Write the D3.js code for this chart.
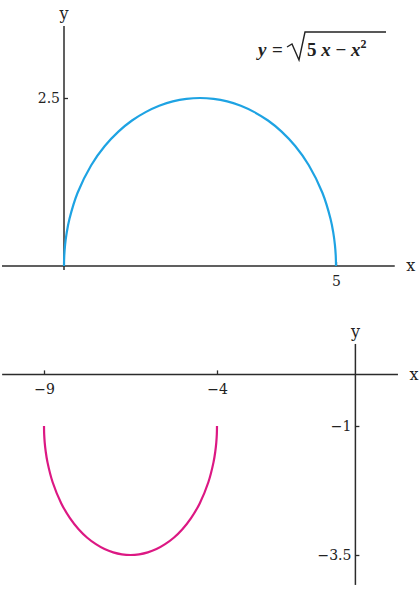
<!DOCTYPE html>
<html><head><meta charset="utf-8">
<script src="https://cdn.jsdelivr.net/npm/d3@7"></script>
<style>
html,body{margin:0;padding:0;background:#fff;}
</style></head>
<body>
<svg id="c" width="420" height="590"></svg>
<script>
// ---- data ----
const topX = [0, 0.005, 0.02, 0.05, 0.1, 0.25, 0.5, 0.75, 1, 1.25, 1.5, 1.75, 2, 2.25, 2.5, 2.75, 3, 3.25, 3.5, 3.75, 4, 4.25, 4.5, 4.75, 4.9, 4.95, 4.98, 4.995, 5];
const topY = [0, 0.158, 0.316, 0.497, 0.7, 1.09, 1.5, 1.785, 2, 2.165, 2.29, 2.385, 2.449, 2.487, 2.5, 2.487, 2.449, 2.385, 2.29, 2.165, 2, 1.785, 1.5, 1.09, 0.7, 0.497, 0.316, 0.158, 0];
const botX = [-9, -8.995, -8.98, -8.95, -8.9, -8.75, -8.5, -8.25, -8, -7.75, -7.5, -7.25, -7, -6.75, -6.5, -6.25, -6, -5.75, -5.5, -5.25, -5, -4.75, -4.5, -4.25, -4.1, -4.05, -4.02, -4.005, -4];
const botY = [-1, -1.158, -1.316, -1.497, -1.7, -2.09, -2.5, -2.785, -3, -3.165, -3.29, -3.385, -3.449, -3.487, -3.5, -3.487, -3.449, -3.385, -3.29, -3.165, -3, -2.785, -2.5, -2.09, -1.7, -1.497, -1.316, -1.158, -1];
const topXTicks = [5];
const topYTicks = [2.5];
const botXTicks = [-9, -4];
const botYTicks = [-1, -3.5];
const topXTickLabels = ["5"];
const topYTickLabels = ["2.5"];
const botXTickLabels = ["\u22129", "\u22124"];
const botYTickLabels = ["\u22121", "\u22123.5"];

const svg = d3.select("#c");
const axisColor = "#2b2b2b";
const tickFont = "'DejaVu Serif', serif";

function panel(cfg){
  const g = svg.append("g");
  const x = d3.scaleLinear().domain(cfg.xd).range(cfg.xr);
  const y = d3.scaleLinear().domain(cfg.yd).range(cfg.yr);
  // axis lines
  g.append("line").attr("x1", x(cfg.xExt[0])).attr("x2", x(cfg.xExt[1]))
    .attr("y1", y(0)).attr("y2", y(0)).attr("stroke", axisColor).attr("stroke-width", 1.5);
  g.append("line").attr("x1", x(0)).attr("x2", x(0))
    .attr("y1", y(cfg.yExt[0])).attr("y2", y(cfg.yExt[1])).attr("stroke", axisColor).attr("stroke-width", 1.5);
  // x ticks (pointing up, labels below)
  const xa = d3.axisBottom(x).tickValues(cfg.xTicks).tickSize(-4).tickPadding(10)
    .tickFormat((d,i)=>cfg.xLabels[i]);
  const gx = g.append("g").attr("transform", `translate(0,${y(0)})`).call(xa);
  gx.select(".domain").remove();
  gx.attr("font-family", null).attr("font-size", null);
  gx.selectAll("line").attr("stroke", axisColor).attr("stroke-width", 1.3);
  gx.selectAll("text").style("font-size", "14px").style("font-family", tickFont).attr("fill", "#222");
  // y ticks (pointing right, labels left)
  const ya = d3.axisLeft(y).tickValues(cfg.yTicks).tickSize(-4).tickPadding(4)
    .tickFormat((d,i)=>cfg.yLabels[i]);
  const gy = g.append("g").attr("transform", `translate(${x(0)},0)`).call(ya);
  gy.select(".domain").remove();
  gy.attr("font-family", null).attr("font-size", null);
  gy.selectAll("line").attr("stroke", axisColor).attr("stroke-width", 1.3);
  gy.selectAll("text").style("font-size", "14px").style("font-family", tickFont).attr("fill", "#222");
  // axis names
  g.append("text").attr("x", x(cfg.xExt[1]) + 16).attr("y", y(0)).attr("dy", "0.32em")
    .attr("text-anchor", "middle").style("font-size", "16px").style("font-family", tickFont).attr("fill", "#222").text("x");
  g.append("text").attr("x", x(0)).attr("y", y(cfg.yExt[1]) - 12).attr("dy", "0.32em")
    .attr("text-anchor", "middle").style("font-size", "16px").style("font-family", tickFont).attr("fill", "#222").text("y");
  // curve
  const pts = cfg.cx.map((v,i)=>[v, cfg.cy[i]]);
  const line = d3.line().x(d=>x(d[0])).y(d=>y(d[1])).curve(d3.curveCatmullRom.alpha(0.5));
  g.append("path").datum(pts).attr("d", line).attr("fill", "none")
    .attr("stroke", cfg.color).attr("stroke-width", 2.2).attr("stroke-linecap", "butt");
  return {x, y};
}

panel({
  xd:[0,5], xr:[64,336], yd:[0,2.5], yr:[266,98],
  xExt:[-1.14, 6.08], yExt:[-0.06, 3.57],
  xTicks: topXTicks, yTicks: topYTicks, xLabels: topXTickLabels, yLabels: topYTickLabels,
  cx: topX, cy: topY, color: "#1ea3e3"
});
panel({
  xd:[-9,-4], xr:[44,217], yd:[-1,-3.5], yr:[426,555],
  xExt:[-10.21, 1.23], yExt:[-4.08, 0.59],
  xTicks: botXTicks, yTicks: botYTicks, xLabels: botXTickLabels, yLabels: botYTickLabels,
  cx: botX, cy: botY, color: "#dc1883"
});

// formula y = sqrt(5x - x^2)
const f = svg.append("g").style("font-family", "'Liberation Serif', serif").style("font-size", "19px").attr("fill", "#222");
f.append("text").attr("x", 258).attr("y", 56).attr("font-style", "italic").attr("font-weight", "bold").text("y");
f.append("text").attr("x", 272).attr("y", 56).attr("font-weight", "bold").text("=");
f.append("path").attr("d", "M287,47 L292,44 L299,60 L305,32 L386,32")
  .attr("fill", "none").attr("stroke", "#222").attr("stroke-width", 1.4);
const t = f.append("text").attr("x", 307).attr("y", 56).attr("font-weight", "bold");
t.append("tspan").text("5 ");
t.append("tspan").attr("font-style", "italic").text("x");
t.append("tspan").text(" \u2212 ");
t.append("tspan").attr("font-style", "italic").text("x");
t.append("tspan").style("font-size", "12px").attr("dy", -8).text("2");
</script>
</body></html>
